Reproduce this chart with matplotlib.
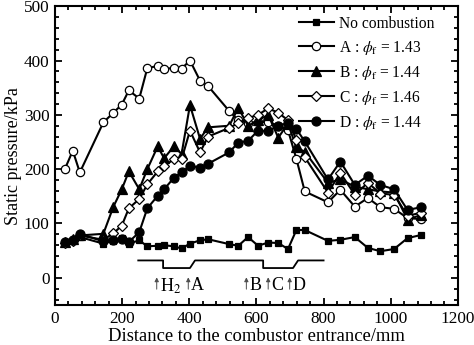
import matplotlib
matplotlib.use("Agg")
import matplotlib.pyplot as plt
from matplotlib.ticker import MultipleLocator

plt.rcParams["font.family"] = ["Liberation Serif", "DejaVu Serif"]
plt.rcParams["mathtext.fontset"] = "stix"
plt.rcParams["font.size"] = 11

# posições das tomadas de pressão (mm)
posicao = [30, 53, 74, 144, 174, 199, 220, 251, 275, 306, 325, 354, 377, 402, 432, 456,
           519, 546, 575, 605, 635, 665, 694, 719, 744, 813, 850, 893, 932, 969, 1010,
           1050, 1091]

sem_combustao = [64, 68, 75, 63, 68, 73, 63, 69, 58, 59, 60, 58, 54, 63, 69, 71,
                 62, 59, 75, 59, 65, 64, 53, 88, 88, 68, 70, 75, 55, 49, 53, 73, 79]
caso_a = [201, 234, 194, 286, 304, 319, 345, 330, 386, 390, 385, 386, 385, 400, 363, 353,
          307, 290, 285, 287, 287, 280, 272, 219, 159, 139, 162, 131, 147, 130, 127, 110, 108]
caso_b = [66, 72, 78, 81, 131, 163, 196, 163, 200, 242, 220, 242, 228, 318, 256, 277,
          280, 313, 280, 290, 300, 258, 284, 240, 232, 175, 181, 168, 163, 159, 157, 107, 116]
caso_c = [65, 68, 78, 70, 82, 96, 128, 145, 172, 196, 206, 218, 218, 271, 231, 260,
          276, 285, 294, 300, 312, 304, 290, 254, 222, 157, 193, 153, 175, 155, 153, 114, 120]
caso_d = [66, 70, 81, 67, 70, 72, 66, 84, 128, 151, 163, 184, 194, 206, 203, 210,
          231, 249, 252, 271, 270, 280, 285, 274, 251, 181, 214, 171, 188, 171, 163, 125, 130]

rotulos = ["No combustion",
           r"A : $\phi_{\mathrm{f}}$ = 1.43",
           r"B : $\phi_{\mathrm{f}}$ = 1.44",
           r"C : $\phi_{\mathrm{f}}$ = 1.46",
           r"D : $\phi_{\mathrm{f}}$ = 1.44"]

# contorno do combustor e pontos de injeção
contorno_x = [248, 322, 322, 402, 417, 620, 620, 709, 724, 800]
contorno_y = [32, 32, 18, 18, 32, 32, 18, 18, 32, 32]
injecao_x = [303, 397, 570, 635, 699]
injecao_nome = [r"H$_2$", "A", "B", "C", "D"]

fig = plt.figure(figsize=(4.74, 3.45), dpi=100)
ax = fig.add_axes([0.116, 0.116, 0.85, 0.866])

estilos = [
    (sem_combustao, "s", "k", 5.0),
    (caso_a, "o", "white", 6.0),
    (caso_b, "^", "k", 6.5),
    (caso_c, "D", "white", 5.0),
    (caso_d, "o", "k", 6.5),
]
for (serie, marcador, cor, tam), rotulo in zip(estilos, rotulos):
    ax.plot(posicao, serie, marker=marcador, color="k", markerfacecolor=cor,
            markeredgecolor="k", markersize=tam, linewidth=1.5, markeredgewidth=0.9,
            label=rotulo)

ax.plot(contorno_x, contorno_y, color="k", linewidth=1.3)
for xi, nome in zip(injecao_x, injecao_nome):
    ax.annotate("", xy=(xi, 6), xytext=(xi, -26),
                arrowprops=dict(arrowstyle="-|>", color="0.3", lw=0.7, mutation_scale=6))
    ax.text(xi + 9, -15, nome, ha="left", va="center", fontsize=13)

ax.set_xlim(0, 1200)
ax.set_ylim(-50, 500)
ax.xaxis.set_major_locator(MultipleLocator(200))
ax.xaxis.set_minor_locator(MultipleLocator(40))
ax.yaxis.set_major_locator(MultipleLocator(100))
ax.yaxis.set_minor_locator(MultipleLocator(20))
ax.tick_params(which="both", direction="in", top=True, right=True, width=1.3)
ax.tick_params(which="major", length=5, labelsize=12.4, pad=4)
ax.tick_params(which="minor", length=3)
for lado in ax.spines.values():
    lado.set_linewidth(1.5)

ax.set_xlabel("Distance to the combustor entrance/mm", fontsize=13.4, labelpad=1)
ax.set_ylabel("Static pressure/kPa", fontsize=13, labelpad=1)

ax.legend(loc="upper right", bbox_to_anchor=(0.965, 1.0), frameon=False, fontsize=11.2,
          handlelength=2.3, labelspacing=0.45, borderaxespad=0.2, handletextpad=0.3)

fig.savefig("out.png", dpi=100)
